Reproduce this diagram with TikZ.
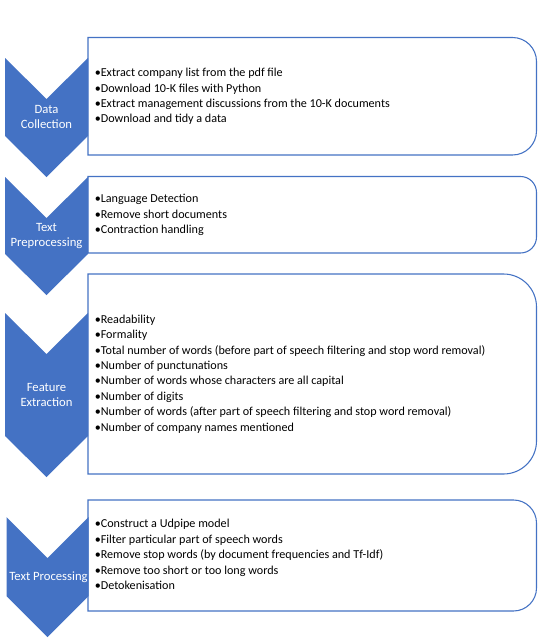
\documentclass[tikz,border=0pt]{standalone}
\usepackage{fontspec}
\setmainfont{Carlito}
\definecolor{chev}{HTML}{4472C4}
\begin{document}
\begin{tikzpicture}[x=0.75pt,y=-0.75pt,
  chevron/.style={fill=chev,draw=none},
  panelline/.style={draw=chev,line width=0.8pt,fill=white},
  chevlabel/.style={text=white,align=center,inner sep=0pt,font=\fontsize{9.5}{11.4}\selectfont},
  itemlist/.style={anchor=west,align=left,inner sep=0pt,font=\fontsize{9.1}{11.55}\selectfont}]
\useasboundingbox (0,0) rectangle (537,639);
\fill[white] (0,0) rectangle (537,639);
% chevrons: left, right, top, bottom point, depth
\newcommand{\chevshape}[5]{%
  \path[chevron] (#1,#3) -- ({(#1+#2)/2},{#3+#5}) -- (#2,#3) -- (#2,{#4-#5}) -- ({(#1+#2)/2},#4) -- (#1,{#4-#5}) -- cycle;}
\newcommand{\panelshape}[3]{%
  \path[panelline] (88,#1) -- ({536.5-#3},#1) .. controls ({536.5-0.448*#3},#1) and (536.5,{#1+0.448*#3}) .. (536.5,{#1+#3})
   -- (536.5,{#2-#3}) .. controls (536.5,{#2-0.448*#3}) and ({536.5-0.448*#3},#2) .. ({536.5-#3},#2) -- (88,#2) -- cycle;}
\panelshape{37.5}{155}{24}
\panelshape{176.5}{253}{16}
\panelshape{274}{474}{33}
\panelshape{500}{611}{23}
\chevshape{5}{88}{58}{177}{41}
\chevshape{5}{88}{177}{295}{41}
\chevshape{5}{88}{313}{477}{41}
\chevshape{6.5}{88.5}{517}{637}{41}
\node[chevlabel] (c1) at (46.5,117) {Data\\Collection};
\node[chevlabel] (c2) at (46.5,236) {Text\\Preprocessing};
\node[chevlabel] (c3) at (46.5,395) {Feature\\Extraction};
\node[chevlabel] (c4) at (48.5,577.5) {Text Processing};
\node[itemlist] (l1) at (94.5,96.5) {•Extract company list from the pdf file\\•Download 10-K files with Python\\•Extract management discussions from the 10-K documents\\•Download and tidy a data};
\node[itemlist] (l2) at (94.5,215) {•Language Detection\\•Remove short documents\\•Contraction handling};
\node[itemlist] (l3) at (94.5,374) {•Readability\\•Formality\\•Total number of words (before part of speech filtering and stop word removal)\\•Number of punctunations\\•Number of words whose characters are all capital\\•Number of digits\\•Number of words (after part of speech filtering and stop word removal)\\•Number of company names mentioned};
\node[itemlist] (l4) at (94.5,554.5) {•Construct a Udpipe model\\•Filter particular part of speech words\\•Remove stop words (by document frequencies and Tf-Idf)\\•Remove too short or too long words\\•Detokenisation};
\end{tikzpicture}
\end{document}
